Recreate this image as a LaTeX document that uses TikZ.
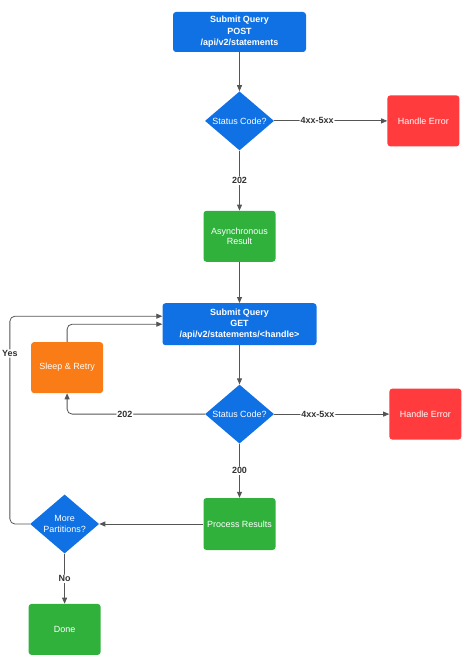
\documentclass[tikz,border=0pt]{standalone}
\usepackage{fontspec}
\setmainfont{Liberation Sans}
\usepackage{tikz}
\usetikzlibrary{shapes.geometric, arrows.meta, positioning}

\definecolor{qblue}{HTML}{1071E5}
\definecolor{okgreen}{HTML}{2FB13C}
\definecolor{errred}{HTML}{FF3B3D}
\definecolor{waitorange}{HTML}{F97C16}
\definecolor{linegray}{HTML}{555555}
\definecolor{labelgray}{HTML}{333333}

\begin{document}
\begin{tikzpicture}[
        x=1bp, y=1bp,
        request/.style={rectangle, fill=qblue, rounded corners=3bp, minimum width=133bp, minimum height=40bp, align=center, text=white, font=\bfseries\fontsize{9}{11.5}\selectfont},
        decision/.style={diamond, fill=qblue, inner sep=0pt, minimum width=69bp, minimum height=59bp, aspect=1.17, align=center, text=white},
        result/.style={rectangle, fill=okgreen, rounded corners=3bp, minimum width=72bp, minimum height=51bp, align=center, text=white},
        failure/.style={rectangle, fill=errred, rounded corners=3bp, minimum width=72bp, minimum height=51bp, align=center, text=white},
        retry/.style={rectangle, fill=waitorange, rounded corners=3bp, minimum width=72bp, minimum height=51bp, align=center, text=white},
        arrow/.style={-{Triangle[length=6bp, width=5bp]}, line width=0.8bp, draw=linegray, rounded corners=5bp},
        edgelabel/.style={fill=white, inner sep=1bp, text=labelgray, font=\bfseries\fontsize{9}{11}\selectfont},
        font=\fontsize{9}{11}\selectfont
    ]
    \useasboundingbox (0,0) rectangle (474,-662);

    % Central Column
    \node (post) [request] at (239.5,-32) {Submit Query\\POST\\/api/v2/statements};
    \node (status1) [decision, below=39bp of post] {Status Code?};
    \node (async) [result, below=60bp of status1] {Asynchronous\\Result};
    \node (get) [request, below=41bp of async, minimum width=154bp, minimum height=42bp] {Submit Query\\GET\\/api/v2/statements/<handle>};
    \node (status2) [decision, below=39bp of get] {Status Code?};
    \node (process) [result, below=54bp of status2, minimum height=52bp] {Process Results};

    % Right Column
    \node (error1) [failure, right=113bp of status1] {Handle Error};
    \node (error2) [failure, right=115bp of status2] {Handle Error};

    % Left Column
    \node (more) [decision, left=104bp of process] {More\\Partitions?};
    \node (done) [result, below=50bp of more] {Done};
    \node (sleep) [retry, above=101bp of more, xshift=2.5bp] {Sleep \& Retry};

    % Arrows - Vertical
    \draw [arrow] (post) -- (status1);
    \draw [arrow] (status1) -- (async) node[edgelabel, midway] {202};
    \draw [arrow] (async) -- (get);
    \draw [arrow] (get) -- (status2);
    \draw [arrow] (status2) -- (process) node[edgelabel, midway] {200};
    \draw [arrow] (more) -- (done) node[edgelabel, midway] {No};

    % Lateral Arrows
    \draw [arrow] (status1) -- (error1) node[edgelabel, pos=0.38] {4xx-5xx};
    \draw [arrow] (status2) -- (error2) node[edgelabel, pos=0.38] {4xx-5xx};
    \draw [arrow] (status2) -| (sleep) node[edgelabel, pos=0.29] {202};
    \draw [arrow] (sleep) |- (get);
    \draw [arrow] (process) -- (more);
    \draw [arrow] (more.west) -- ++(-20bp,0) |- ([yshift=8bp]get.west) node[edgelabel, pos=0.41] {Yes};

    \end{tikzpicture}
\end{document}
